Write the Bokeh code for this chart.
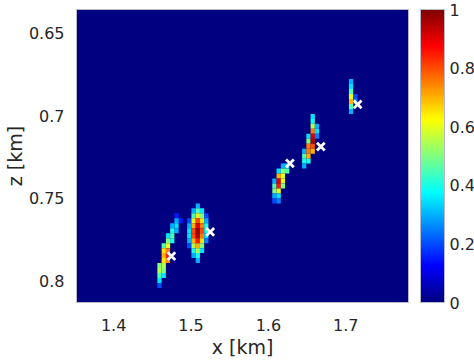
import numpy as np
from bokeh.plotting import figure
from bokeh.models import (ColumnDataSource, LinearColorMapper, ColorBar, FixedTicker,
                          Range1d)
from bokeh.embed import file_html
from bokeh.resources import INLINE

# ---- data ----
# column centres (x, km), first cell centre (z, km), values top->bottom
col_x = [1.48675, 1.48125, 1.47575, 1.47025, 1.46475, 1.45925,
         1.49775, 1.50325, 1.50875, 1.51425, 1.51975,
         1.60775, 1.61325, 1.61875, 1.62425,
         1.64625, 1.65175, 1.65725, 1.66275,
         1.70675, 1.71225]
col_z0 = [0.7635, 0.7605, 0.7665, 0.7725, 0.7785, 0.7905,
          0.7635, 0.7575, 0.7545, 0.7575, 0.7605,
          0.7395, 0.7335, 0.7305, 0.7305,
          0.7215, 0.7125, 0.7005, 0.7065,
          0.6795, 0.6885]
col_vals = [[0.15], [0.15, 0.3, 0.35, 0.3], [0.3, 0.4, 0.45, 0.4],
            [0.35, 0.5, 0.6, 0.75, 0.85, 0.75],
            [0.45, 0.65, 0.7, 0.65, 0.55, 0.5, 0.35],
            [0.5, 0.55, 0.45, 0.35, 0.2],
            [0.2, 0.3, 0.35, 0.35, 0.3, 0.2],
            [0.3, 0.45, 0.6, 0.7, 0.8, 0.8, 0.7, 0.55, 0.4, 0.3],
            [0.3, 0.45, 0.6, 0.8, 0.9, 0.97, 0.95, 0.85, 0.7, 0.55, 0.4, 0.3],
            [0.35, 0.5, 0.65, 0.75, 0.8, 0.75, 0.65, 0.5, 0.35],
            [0.2, 0.3, 0.4, 0.4, 0.35, 0.25],
            [0.3, 0.45, 0.5, 0.3, 0.2],
            [0.35, 0.7, 0.9, 0.85, 0.6, 0.35, 0.25],
            [0.3, 0.5, 0.6, 0.6, 0.5],
            [0.35, 0.45],
            [0.3, 0.45, 0.4, 0.3],
            [0.35, 0.5, 0.75, 0.75, 0.7, 0.4],
            [0.35, 0.4, 0.55, 0.75, 0.9, 0.95, 0.8, 0.7],
            [0.3, 0.35, 0.25],
            [0.3, 0.35, 0.45, 0.6, 0.7, 0.45, 0.3],
            [0.2, 0.25]]
marker_x = [1.4746, 1.5248, 1.6278, 1.6677, 1.7153]
marker_z = [0.7848, 0.7702, 0.7288, 0.7188, 0.6932]
x_ticks = [1.4, 1.5, 1.6, 1.7]
x_labels = ["1.4", "1.5", "1.6", "1.7"]
z_ticks = [0.65, 0.7, 0.75, 0.8]
z_labels = ["0.65", "0.7", "0.75", "0.8"]
cb_ticks = [0, 0.2, 0.4, 0.6, 0.8, 1]
cb_labels = ["0", "0.2", "0.4", "0.6", "0.8", "1"]

DX, DZ = 0.0055, 0.003

cx, cz, cv = [], [], []
for x, z0, vals in zip(col_x, col_z0, col_vals):
    for k, v in enumerate(vals):
        cx.append(x)
        cz.append(z0 + k * DZ)
        cv.append(v)

# MATLAB-style jet palette
t = np.linspace(0, 1, 256)
def ch(c):
    return np.clip(1.5 - np.abs(4 * t - c), 0, 1)
r, g, b = ch(3), ch(2), ch(1)
jet = ["#%02x%02x%02x" % (int(round(R * 255)), int(round(G * 255)), int(round(B * 255)))
       for R, G, B in zip(r, g, b)]

mapper = LinearColorMapper(palette=jet, low=0, high=1)

FONT = "DejaVu Sans"
FH = 293
p = figure(frame_width=332, frame_height=FH, output_backend="svg", toolbar_location=None,
           x_range=Range1d(1.352, 1.781), y_range=Range1d(0.8128, 0.636),
           min_border_top=9, min_border_left=0, min_border_right=0, min_border_bottom=0)
p.background_fill_color = jet[0]
p.border_fill_color = "white"
p.outline_line_color = "#b8b8c8"
p.grid.visible = False

src = ColumnDataSource(dict(x=cx, z=cz, v=cv))
p.rect(x="x", y="z", width=DX, height=DZ, source=src,
       fill_color={"field": "v", "transform": mapper}, line_color=None)
p.scatter(marker_x, marker_z, marker="x", size=11, line_width=2.8, line_color="white")

for ax in (p.xaxis[0], p.yaxis[0]):
    ax.axis_line_color = None
    ax.major_tick_line_color = None
    ax.minor_tick_line_color = None
    ax.major_label_text_font = FONT
    ax.major_label_text_font_size = "16px"
    ax.major_label_text_color = "#262626"
    ax.axis_label_text_font = FONT
    ax.axis_label_text_font_size = "19px"
    ax.axis_label_text_font_style = "normal"
    ax.axis_label_text_color = "#262626"

p.xaxis.ticker = FixedTicker(ticks=x_ticks)
p.xaxis.major_label_overrides = dict(zip(x_ticks, x_labels))
p.yaxis.ticker = FixedTicker(ticks=z_ticks)
p.yaxis.major_label_overrides = dict(zip(z_ticks, z_labels))
p.xaxis.axis_label = "x [km]"
p.yaxis.axis_label = "z [km]"
p.xaxis.major_label_standoff = 10
p.xaxis.axis_label_standoff = 2
p.yaxis.major_label_standoff = 6
p.yaxis.axis_label_standoff = 0

cb = ColorBar(color_mapper=mapper, width=24, height=FH, padding=0, margin=0,
              location=(12, 0),
              ticker=FixedTicker(ticks=cb_ticks),
              major_label_overrides=dict(zip(cb_ticks, cb_labels)),
              major_label_text_font=FONT, major_label_text_font_size="16px",
              major_label_text_color="#262626", label_standoff=5,
              major_tick_line_color=None, minor_tick_line_color=None,
              bar_line_color="#b8b8c8", border_line_color=None)
p.add_layout(cb, "right")

open("out.html", "w").write(file_html(p, INLINE))
